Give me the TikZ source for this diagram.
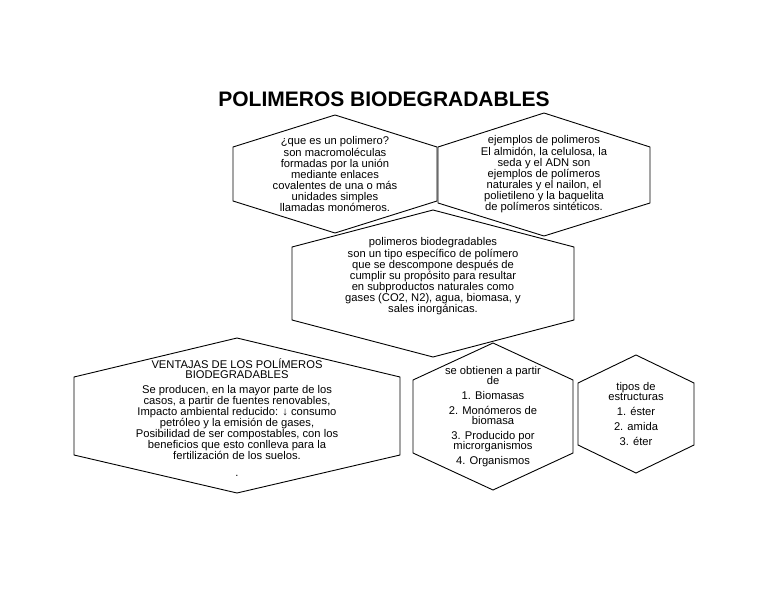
\documentclass[tikz,border=0pt]{standalone}
\usepackage{fontspec}
\setmainfont{Liberation Sans}

\tikzset{
    hex/.style={draw=black, line width=0.9pt, line join=miter},
    hextext/.style={align=center, inner sep=0pt, font=\fontsize{11.2}{11}\selectfont},
}

\begin{document}
\begin{tikzpicture}[x=1pt, y=-1pt]

    \useasboundingbox (0,0) rectangle (768,594);

    \node[font=\fontsize{21}{24}\selectfont\bfseries] (title) at (384,99) {POLIMEROS BIODEGRADABLES};

    \foreach \hex/\xl/\xr/\yt/\yu/\yd/\yb in {
        what/233/437/115/147/201/233,
        examples/438/650/113/147/203/236,
        bio/292/574/210/247/320/357,
        advantages/74/400/338/377/455/493,
        sources/413/573/343/380/453/490,
        structures/578/694/355/383/445/473}
    {
        \pgfmathsetmacro{\hexmid}{(\xl+\xr)/2}
        \pgfmathsetmacro{\hexctr}{(\yt+\yb)/2}
        \draw[hex] (\xl,\yu) -- (\hexmid,\yt) -- (\xr,\yu) -- (\xr,\yd)
            -- (\hexmid,\yb) -- (\xl,\yd) -- cycle;
        \coordinate (\hex) at (\hexmid,\hexctr);
    }

    \node[hextext] (what text) at (what) {¿que es un polimero?\\[1pt]
        son macromoléculas\\ formadas por la unión\\ mediante enlaces\\
        covalentes de una o más\\ unidades simples\\ llamadas monómeros.};

    \node[hextext] (examples text) at (examples) {ejemplos de polimeros\\[1pt]
        El almidón, la celulosa, la\\ seda y el ADN son\\ ejemplos de polímeros\\
        naturales y el nailon, el\\ polietileno y la baquelita\\ de polímeros sintéticos.};

    \node[hextext] (bio text) at ([yshift=7pt]bio) {polimeros biodegradables\\[1pt]
        son un tipo específico de polímero\\ que se descompone después de\\
        cumplir su propósito para resultar\\ en subproductos naturales como\\
        gases (CO2, N2), agua, biomasa, y\\ sales inorgánicas.};

    \node[hextext] (advantages text) at ([yshift=-2pt]advantages) {VENTAJAS DE LOS POLÍMEROS\\[-1pt]
        BIODEGRADABLES\\[4pt]
        Se producen, en la mayor parte de los\\ casos, a partir de fuentes renovables,\\
        Impacto ambiental reducido: ↓ consumo\\ petróleo y la emisión de gases,\\
        Posibilidad de ser compostables, con los\\ beneficios que esto conlleva para la\\
        fertilización de los suelos.\\[6pt] .};

    \node[hextext] (sources text) at (sources) {se obtienen a partir\\[-1pt] de\\[4pt]
        1. Biomasas\\[4pt] 2. Monómeros de\\[-1pt] biomasa\\[4pt]
        3. Producido por\\[-1pt] microrganismos\\[4pt] 4. Organismos};

    \node[hextext] (structures text) at (structures) {tipos de\\[-1pt] estructuras\\[4pt]
        1. éster\\[4pt] 2. amida\\[4pt] 3. éter};

\end{tikzpicture}
\end{document}
